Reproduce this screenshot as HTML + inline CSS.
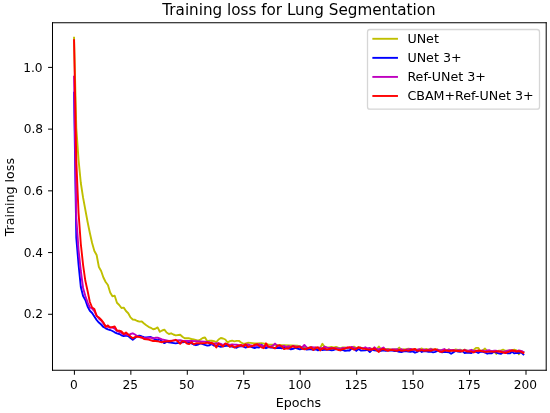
<!DOCTYPE html>
<html><head><meta charset="utf-8"><title>Training loss for Lung Segmentation</title>
<style>html,body{margin:0;padding:0;background:#fff;width:550px;height:413px;overflow:hidden}</style>
</head><body>
<svg width="550" height="413" viewBox="0 0 434.210526 326.052632" style="display:block;filter:blur(0.3px)">
<defs>
<style type="text/css">*{stroke-linejoin: round; stroke-linecap: butt}</style>
</defs>
<g id="figure_1">
<g id="patch_1">
<path d="M 0 326.052632 L 434.210526 326.052632 L 434.210526 0 L 0 0 z
" style="fill: #ffffff"/>
</g>
<g id="axes_1">
<g id="patch_2">
<path d="M 41.447368 292.342105 L 431.210526 292.342105 L 431.210526 18 L 41.447368 18 z
" style="fill: #ffffff"/>
</g>
<g id="matplotlib.axis_1">
<g id="xtick_1">
<g id="line2d_1">
<g>
<path d="M 58.737 292.342 L 58.737 295.842" style="stroke: #000000; stroke-width: 0.8"/>
</g>
</g>
<g id="text_1" transform="translate(-0.3947 0.3158)">
<text style="font-size: 9.632px; font-family: 'DejaVu Sans', 'Liberation Sans', sans-serif; text-anchor: middle" x="58.736842" y="306.940543">0</text>
</g>
</g>
<g id="xtick_2">
<g id="line2d_2">
<g>
<path d="M 103.303 292.342 L 103.303 295.842" style="stroke: #000000; stroke-width: 0.8"/>
</g>
</g>
<g id="text_2" transform="translate(-0.3947 0.3158)">
<text style="font-size: 9.632px; font-family: 'DejaVu Sans', 'Liberation Sans', sans-serif; text-anchor: middle" x="103.302632" y="306.940543">25</text>
</g>
</g>
<g id="xtick_3">
<g id="line2d_3">
<g>
<path d="M 147.868 292.342 L 147.868 295.842" style="stroke: #000000; stroke-width: 0.8"/>
</g>
</g>
<g id="text_3" transform="translate(-0.3947 0.3158)">
<text style="font-size: 9.632px; font-family: 'DejaVu Sans', 'Liberation Sans', sans-serif; text-anchor: middle" x="147.868421" y="306.940543">50</text>
</g>
</g>
<g id="xtick_4">
<g id="line2d_4">
<g>
<path d="M 192.434 292.342 L 192.434 295.842" style="stroke: #000000; stroke-width: 0.8"/>
</g>
</g>
<g id="text_4" transform="translate(-0.3947 0.3158)">
<text style="font-size: 9.632px; font-family: 'DejaVu Sans', 'Liberation Sans', sans-serif; text-anchor: middle" x="192.434211" y="306.940543">75</text>
</g>
</g>
<g id="xtick_5">
<g id="line2d_5">
<g>
<path d="M 237.000 292.342 L 237.000 295.842" style="stroke: #000000; stroke-width: 0.8"/>
</g>
</g>
<g id="text_5" transform="translate(-0.3947 0.3158)">
<text style="font-size: 9.632px; font-family: 'DejaVu Sans', 'Liberation Sans', sans-serif; text-anchor: middle" x="237" y="306.940543">100</text>
</g>
</g>
<g id="xtick_6">
<g id="line2d_6">
<g>
<path d="M 281.566 292.342 L 281.566 295.842" style="stroke: #000000; stroke-width: 0.8"/>
</g>
</g>
<g id="text_6" transform="translate(-0.3947 0.3158)">
<text style="font-size: 9.632px; font-family: 'DejaVu Sans', 'Liberation Sans', sans-serif; text-anchor: middle" x="281.565789" y="306.940543">125</text>
</g>
</g>
<g id="xtick_7">
<g id="line2d_7">
<g>
<path d="M 326.132 292.342 L 326.132 295.842" style="stroke: #000000; stroke-width: 0.8"/>
</g>
</g>
<g id="text_7" transform="translate(-0.3947 0.3158)">
<text style="font-size: 9.632px; font-family: 'DejaVu Sans', 'Liberation Sans', sans-serif; text-anchor: middle" x="326.131579" y="306.940543">150</text>
</g>
</g>
<g id="xtick_8">
<g id="line2d_8">
<g>
<path d="M 370.697 292.342 L 370.697 295.842" style="stroke: #000000; stroke-width: 0.8"/>
</g>
</g>
<g id="text_8" transform="translate(-0.3947 0.3158)">
<text style="font-size: 9.632px; font-family: 'DejaVu Sans', 'Liberation Sans', sans-serif; text-anchor: middle" x="370.697368" y="306.940543">175</text>
</g>
</g>
<g id="xtick_9">
<g id="line2d_9">
<g>
<path d="M 415.263 292.342 L 415.263 295.842" style="stroke: #000000; stroke-width: 0.8"/>
</g>
</g>
<g id="text_9" transform="translate(-0.3947 0.3158)">
<text style="font-size: 9.632px; font-family: 'DejaVu Sans', 'Liberation Sans', sans-serif; text-anchor: middle" x="415.263158" y="306.940543">200</text>
</g>
</g>
<g id="text_10" transform="translate(-0.7895 0.9474)">
<text style="font-size: 10px; font-family: 'DejaVu Sans', 'Liberation Sans', sans-serif; text-anchor: middle" x="236.328947" y="320.618668">Epochs</text>
</g>
</g>
<g id="matplotlib.axis_2">
<g id="ytick_1">
<g id="line2d_10">
<g>
<path d="M 41.447 248.116 L 37.947 248.116" style="stroke: #000000; stroke-width: 0.8"/>
</g>
</g>
<g id="text_11" transform="translate(-0.4737 -0.4737)">
<text style="font-size: 9.632px; font-family: 'DejaVu Sans', 'Liberation Sans', sans-serif; text-anchor: end" x="34.447368" y="251.915008">0.2</text>
</g>
</g>
<g id="ytick_2">
<g id="line2d_11">
<g>
<path d="M 41.447 199.389 L 37.947 199.389" style="stroke: #000000; stroke-width: 0.8"/>
</g>
</g>
<g id="text_12" transform="translate(-0.4737 -0.4737)">
<text style="font-size: 9.632px; font-family: 'DejaVu Sans', 'Liberation Sans', sans-serif; text-anchor: end" x="34.447368" y="203.188692">0.4</text>
</g>
</g>
<g id="ytick_3">
<g id="line2d_12">
<g>
<path d="M 41.447 150.663 L 37.947 150.663" style="stroke: #000000; stroke-width: 0.8"/>
</g>
</g>
<g id="text_13" transform="translate(-0.4737 -0.4737)">
<text style="font-size: 9.632px; font-family: 'DejaVu Sans', 'Liberation Sans', sans-serif; text-anchor: end" x="34.447368" y="154.462377">0.6</text>
</g>
</g>
<g id="ytick_4">
<g id="line2d_13">
<g>
<path d="M 41.447 101.937 L 37.947 101.937" style="stroke: #000000; stroke-width: 0.8"/>
</g>
</g>
<g id="text_14" transform="translate(-0.4737 -0.4737)">
<text style="font-size: 9.632px; font-family: 'DejaVu Sans', 'Liberation Sans', sans-serif; text-anchor: end" x="34.447368" y="105.736061">0.8</text>
</g>
</g>
<g id="ytick_5">
<g id="line2d_14">
<g>
<path d="M 41.447 53.211 L 37.947 53.211" style="stroke: #000000; stroke-width: 0.8"/>
</g>
</g>
<g id="text_15" transform="translate(-0.7895 -0.4737)">
<text style="font-size: 9.632px; font-family: 'DejaVu Sans', 'Liberation Sans', sans-serif; text-anchor: end" x="34.447368" y="57.009745">1.0</text>
</g>
</g>
<g id="text_16" transform="translate(-1.5789 0.4737)">
<text style="font-size: 10px; font-family: 'DejaVu Sans', 'Liberation Sans', sans-serif; text-anchor: middle" x="12.464556" y="155.171053" transform="rotate(-90 12.464556 155.171053)">Training loss</text>
</g>
</g>
<g id="line2d_15">
<path d="M 58.460526 29.842105 L 60.243158 101.052632 L 62.025789 126.315789 L 63.808421 144.473684 L 65.591053 156.078947 L 69.156316 175.263158 L 70.938947 183.947368 L 72.721579 191.842105 L 74.504211 198.157895 L 76.286842 201.315789 L 78.069474 210.789474 L 79.852105 213.947368 L 81.634737 219.078947 L 83.417368 222.631579 L 85.2 225 L 86.982632 230.921053 L 88.765263 233.921053 L 90.547895 233.447368 L 92.330526 239.052632 L 94.113158 240.789474 L 95.895789 243.157895 L 97.678421 242.842105 L 99.461053 245.526316 L 101.243684 247.263158 L 103.026316 250.578947 L 104.808947 252.236842 L 106.591579 252.473684 L 108.374211 253.421053 L 110.156842 253.894737 L 111.939474 253.815789 L 113.722105 255.394737 L 115.504737 256.815789 L 117.287368 258 L 119.07 258.789474 L 120.852632 259.894737 L 122.635263 259.5 L 124.417895 258.473684 L 126.200526 261.947368 L 127.983158 260.921053 L 129.765789 260.210526 L 131.548421 262.5 L 133.331053 263.684211 L 135.113684 263.131579 L 136.896316 264.078947 L 138.678947 264.789474 L 142.244211 264.236842 L 144.026842 265.894737 L 145.809474 267.078947 L 149.374737 267.078947 L 151.157368 267.631579 L 152.94 267.947368 L 156.505263 268.973684 L 158.287895 268.026316 L 160.070526 266.842105 L 161.853158 266.447368 L 163.635789 269.368421 L 165.418421 269.052632 L 167.201053 269.052632 L 168.983684 269.368421 L 170.766316 270.078947 L 172.548947 268.026316 L 174.331579 266.842105 L 176.114211 267.236842 L 177.896842 268.026316 L 179.679474 270.394737 L 181.462105 269.289474 L 183.244737 268.973684 L 185.027368 269.526316 L 186.81 269.131579 L 188.592632 269.131579 L 190.375263 270.394737 L 192.157895 271.421053 L 193.940526 271.184211 L 195.723158 270.631579 L 197.505789 270.710526 L 201.071053 271.08653 L 202.853684 271.11262 L 206.418947 270.94192 L 211.766842 272.002697 L 218.897368 272.394 L 229.593158 272.696316 L 234.941053 272.919145 L 236.723684 273.441741 L 238.506316 274.310868 L 240.288947 273.588911 L 242.071579 274.82951 L 243.854211 274.533385 L 245.636842 273.848466 L 247.419474 274.953762 L 249.202105 274.264355 L 250.984737 274.76706 L 252.767368 274.785602 L 254.55 271.421053 L 256.332632 274.245043 L 258.115263 274.394256 L 259.897895 274.249597 L 261.680526 273.868421 L 263.463158 274.495571 L 265.245789 273.868421 L 267.028421 274.443007 L 268.811053 274.82502 L 270.593684 274.270215 L 272.376316 274.308826 L 274.158947 274.880989 L 275.941579 274.939141 L 277.724211 274.218404 L 279.506842 273.626537 L 281.289474 274.848749 L 283.072105 274.00017 L 284.854737 274.501871 L 286.637368 274.667228 L 288.42 275.090863 L 293.767895 275.267628 L 295.550526 275.817055 L 297.333158 275.798884 L 299.115789 273.552632 L 300.898421 275.845809 L 302.681053 275.318607 L 304.463684 275.517979 L 306.246316 275.567147 L 308.028947 275.746187 L 309.811579 276.210018 L 311.594211 275.642571 L 313.376842 276.069134 L 315.159474 274.421053 L 316.942105 276.327037 L 318.724737 275.652472 L 320.507368 275.804994 L 322.29 275.291151 L 324.072632 275.422275 L 325.855263 276.221584 L 327.637895 275.537285 L 329.420526 276.163666 L 331.203158 275.801297 L 332.985789 275.052632 L 334.768421 276.402769 L 336.551053 275.459682 L 338.333684 276.169629 L 340.116316 275.299199 L 341.898947 276.147326 L 343.681579 275.73203 L 345.464211 275.950396 L 347.246842 276.579357 L 349.029474 276.221626 L 350.812105 276.580013 L 352.594737 276.672091 L 354.377368 275.862101 L 356.16 276.566188 L 357.942632 276.728167 L 359.725263 275.842105 L 361.507895 276.287948 L 363.290526 276.087784 L 365.073158 276.717106 L 366.855789 276.00869 L 368.638421 276.713116 L 370.421053 277.000329 L 372.203684 276.85719 L 373.986316 276.25491 L 375.768947 274.657895 L 377.551579 274.657895 L 379.334211 277.118382 L 381.116842 276.673518 L 382.899474 275.210526 L 384.682105 277.160932 L 386.464737 277.287693 L 388.247368 277.133372 L 390.03 277.427311 L 391.812632 279.473684 L 393.595263 276.835767 L 395.377895 276.794307 L 397.160526 276.078947 L 398.943158 276.903902 L 400.725789 276.788942 L 402.508421 276.858382 L 406.073684 276.072378 L 407.856316 276.690582 L 409.638947 279.631579 L 411.421579 277.139986 L 413.204211 277.928907 L 413.204211 277.928907 " clip-path="url(#pa044f93987)" style="fill: none; stroke: #bfbf00; stroke-width: 1.5; stroke-linecap: square"/>
</g>
<g id="line2d_16">
<path d="M 58.460526 73.105263 L 60.243158 187.894737 L 62.025789 208.894737 L 63.808421 226.578947 L 65.591053 233.684211 L 67.373684 236.842105 L 69.156316 241.973684 L 70.938947 245.368421 L 72.721579 247.105263 L 76.286842 252.631579 L 78.069474 254.684211 L 79.852105 256.184211 L 81.634737 258.157895 L 83.417368 259.184211 L 85.2 259.973684 L 86.982632 260.526316 L 88.765263 261.315789 L 90.547895 262.342105 L 92.330526 263.131579 L 94.113158 263.684211 L 95.895789 264.710526 L 97.678421 265.263158 L 99.461053 264.868421 L 101.243684 265.263158 L 103.026316 266.842105 L 104.808947 268.263158 L 106.591579 266.842105 L 108.374211 265.263158 L 110.156842 264.947368 L 111.939474 265.657895 L 113.722105 266.131579 L 115.504737 266.447368 L 119.07 266.052632 L 120.852632 266.842105 L 122.635263 268.263158 L 124.417895 268.578947 L 126.200526 267.947368 L 127.983158 269.605263 L 129.765789 270.868421 L 131.548421 269.684211 L 133.331053 270.315789 L 138.678947 271.105263 L 144.026842 270.236842 L 147.592105 269.763158 L 151.157368 271.026316 L 152.94 271.973684 L 154.722632 272.526316 L 156.505263 271.973684 L 158.287895 271.105263 L 160.070526 271.578947 L 161.853158 272.289474 L 163.635789 272.842105 L 165.418421 272.526316 L 167.201053 271.530261 L 168.983684 272.855511 L 170.766316 272.744857 L 172.548947 273.217501 L 174.331579 273.822389 L 176.114211 273.410407 L 179.679474 272.888201 L 181.462105 273.36746 L 183.244737 273.642672 L 186.81 274.505904 L 188.592632 273.556373 L 190.375263 273.262005 L 192.157895 273.511358 L 193.940526 274.4362 L 195.723158 273.212864 L 197.505789 273.488316 L 199.288421 274.18837 L 201.071053 274.736842 L 202.853684 274.117408 L 204.636316 274.297197 L 206.418947 272.131579 L 208.201579 274.001375 L 209.984211 274.942985 L 211.766842 273.999741 L 213.549474 274.446742 L 215.332105 274.455534 L 217.114737 274.687916 L 220.68 274.578947 L 222.462632 274.959104 L 224.245263 274.614292 L 227.810526 274.919827 L 229.593158 275.732803 L 231.375789 275.341474 L 233.158421 274.657435 L 236.723684 275.763158 L 238.506316 275.350354 L 240.288947 275.181394 L 242.071579 275.989127 L 243.854211 275.716344 L 245.636842 275.709846 L 247.419474 276.244797 L 249.202105 275.704724 L 250.984737 276.574052 L 252.767368 275.675901 L 254.55 276.448383 L 256.332632 275.978936 L 259.897895 276.257292 L 261.680526 276.473684 L 263.463158 276.282903 L 265.245789 275.562403 L 267.028421 275.671993 L 268.811053 276.567465 L 270.593684 276.151222 L 272.376316 277.026316 L 274.158947 276.730439 L 275.941579 276.710526 L 277.724211 274.967346 L 279.506842 275.292173 L 281.289474 277.026316 L 283.072105 275.502822 L 284.854737 276.779278 L 288.42 276.629054 L 290.202632 276.170587 L 291.985263 277.894737 L 293.767895 276.218295 L 295.550526 276.566422 L 297.333158 276.753603 L 299.115789 277.227729 L 300.898421 277.003935 L 302.681053 276.610857 L 304.463684 276.914607 L 306.246316 276.726538 L 308.028947 276.846526 L 309.811579 276.735002 L 311.594211 277.219018 L 313.376842 277.226356 L 315.159474 277.776158 L 316.942105 277.911594 L 318.724737 277.445127 L 320.507368 277.189717 L 322.29 277.589661 L 324.072632 277.773163 L 325.855263 277.437842 L 327.637895 278.447368 L 329.420526 277.84371 L 331.203158 276.470208 L 332.985789 277.87888 L 334.768421 277.147205 L 336.551053 277.337673 L 338.333684 277.697893 L 340.116316 277.606172 L 341.898947 278.210526 L 343.681579 277.773212 L 345.464211 276.864984 L 347.246842 277.274322 L 349.029474 278.151836 L 350.812105 277.712917 L 352.594737 277.984733 L 354.377368 278.07454 L 356.16 279.236842 L 359.725263 276.992482 L 361.507895 277.531984 L 363.290526 277.689914 L 365.073158 277.170338 L 366.855789 278.684211 L 368.638421 278.290465 L 370.421053 278.616355 L 372.203684 278.716391 L 373.986316 277.521888 L 375.768947 277.694665 L 377.551579 278.684211 L 379.334211 277.618944 L 381.116842 277.662079 L 382.899474 278.283618 L 384.682105 279.236842 L 386.464737 278.814048 L 388.247368 278.898232 L 390.03 277.598283 L 391.812632 278.442522 L 393.595263 279.017743 L 395.377895 279.355484 L 397.160526 278.18116 L 398.943158 277.913618 L 400.725789 278.963212 L 402.508421 278.969386 L 404.291053 277.699112 L 406.073684 279 L 407.856316 278.489013 L 409.638947 278.879868 L 411.421579 278.092766 L 413.204211 279.868421 L 413.204211 279.868421 " clip-path="url(#pa044f93987)" style="fill: none; stroke: #0000ff; stroke-width: 1.5; stroke-linecap: square"/>
</g>
<g id="line2d_17">
<path d="M 58.460526 60.473684 L 60.243158 172.105263 L 62.025789 197.368421 L 63.808421 213.947368 L 65.591053 227.368421 L 67.373684 233.684211 L 69.156316 238.657895 L 70.938947 242.605263 L 72.721579 243.552632 L 74.504211 245.526316 L 76.286842 249.078947 L 78.069474 251.447368 L 79.852105 253.026316 L 81.634737 255.394737 L 83.417368 257.368421 L 85.2 258.157895 L 88.765263 258.631579 L 90.547895 259.342105 L 92.330526 261.315789 L 95.895789 262.894737 L 97.678421 264.078947 L 99.461053 264.078947 L 101.243684 264.473684 L 103.026316 263.684211 L 104.808947 263.131579 L 106.591579 264.078947 L 108.374211 265.421053 L 110.156842 266.052632 L 113.722105 266.842105 L 115.504737 267.078947 L 119.07 266.526316 L 120.852632 267.236842 L 122.635263 266.684211 L 124.417895 266.526316 L 127.983158 268.026316 L 133.331053 269.131579 L 138.678947 268.736842 L 142.244211 268.578947 L 144.026842 268.973684 L 149.374737 269.210526 L 151.157368 269.131579 L 161.853158 269.684211 L 165.418421 270.157895 L 167.201053 271.324935 L 172.548947 271.014803 L 174.331579 271.528554 L 176.114211 272.475356 L 177.896842 271.274592 L 179.679474 271.679552 L 181.462105 272.295125 L 183.244737 271.828485 L 185.027368 272.106118 L 186.81 272.160872 L 190.375263 272.932669 L 193.940526 272.064721 L 195.723158 271.894737 L 197.505789 272.414873 L 201.071053 273.204885 L 202.853684 272.369092 L 204.636316 271.705093 L 206.418947 272.79735 L 208.201579 273.200534 L 209.984211 272.981544 L 211.766842 273.658664 L 213.549474 273.609184 L 215.332105 272.935453 L 217.114737 271.263158 L 218.897368 272.849742 L 220.68 273.297955 L 222.462632 273.429119 L 224.245263 273 L 226.027895 274.105262 L 227.810526 273.275292 L 229.593158 274.154062 L 231.375789 273.11267 L 233.158421 273.512114 L 234.941053 273.674742 L 236.723684 273.567488 L 238.506316 274.188198 L 240.288947 272.289474 L 242.071579 274.246341 L 243.854211 274.957374 L 245.636842 274.08206 L 250.984737 274.515543 L 252.767368 274.546286 L 254.55 275.333407 L 256.332632 273.552632 L 258.115263 274.443273 L 259.897895 274.617095 L 261.680526 274.636006 L 263.463158 275.09234 L 265.245789 274.803919 L 267.028421 275.054914 L 268.811053 275.507499 L 270.593684 274.701217 L 272.376316 274.971591 L 274.158947 274.184211 L 275.941579 274.931039 L 277.724211 273.856089 L 279.506842 274.640078 L 281.289474 275.018604 L 284.854737 274.513635 L 286.637368 274.999684 L 288.42 274.184211 L 290.202632 275.148749 L 291.985263 274.753265 L 293.767895 276.135668 L 295.550526 274.184211 L 297.333158 275.453662 L 299.115789 275.700985 L 300.898421 275.181636 L 302.681053 274.342105 L 304.463684 276.301121 L 306.246316 275.913026 L 308.028947 276.228287 L 309.811579 275.605933 L 311.594211 275.847263 L 313.376842 275.724768 L 315.159474 276.200273 L 316.942105 275.664963 L 318.724737 276.646334 L 320.507368 275.94107 L 322.29 275.817507 L 324.072632 275.399184 L 325.855263 276.132059 L 327.637895 276.298783 L 329.420526 276.05086 L 331.203158 275.606465 L 332.985789 276.383088 L 334.768421 275.921053 L 336.551053 276.526184 L 338.333684 276.068109 L 340.116316 275.733945 L 343.681579 276.422158 L 345.464211 275.977015 L 347.246842 276.67504 L 349.029474 276.295268 L 350.812105 275.526316 L 352.594737 276.98766 L 354.377368 275.94504 L 356.16 276.534366 L 357.942632 276.189196 L 359.725263 276.828428 L 361.507895 276.448587 L 363.290526 276.431403 L 365.073158 277.108433 L 366.855789 276.128711 L 368.638421 276.929544 L 370.421053 276.617211 L 372.203684 276.168616 L 373.986316 277.166099 L 375.768947 276.935131 L 377.551579 277.388845 L 381.116842 276.628735 L 382.899474 277.515165 L 384.682105 276.574737 L 386.464737 276.540129 L 388.247368 277.365267 L 390.03 276.908323 L 391.812632 276.952828 L 393.595263 277.761334 L 395.377895 277.12395 L 397.160526 277.76579 L 402.508421 276.503771 L 404.291053 276.591567 L 406.073684 277.369875 L 407.856316 277.421053 L 409.638947 276.641997 L 411.421579 277.098242 L 413.204211 277.894737 L 413.204211 277.894737 " clip-path="url(#pa044f93987)" style="fill: none; stroke: #bf00bf; stroke-width: 1.5; stroke-linecap: square"/>
</g>
<g id="line2d_18">
<path d="M 58.460526 31.736842 L 60.243158 127.105263 L 62.025789 168.157895 L 63.808421 192.631579 L 65.591053 209.052632 L 67.373684 221.684211 L 69.156316 229.736842 L 70.938947 238.421053 L 72.721579 242.763158 L 74.504211 243.947368 L 76.286842 249.473684 L 78.069474 250.657895 L 79.852105 252.394737 L 81.634737 254.605263 L 83.417368 258.157895 L 85.2 256.894737 L 86.982632 258.631579 L 90.547895 257.763158 L 92.330526 260.921053 L 94.113158 261.078947 L 95.895789 261.710526 L 97.678421 263.684211 L 99.461053 262.5 L 103.026316 265.657895 L 104.808947 267.078947 L 106.591579 266.052632 L 108.374211 265.736842 L 111.939474 266.447368 L 113.722105 267.631579 L 117.287368 268.105263 L 120.852632 269.210526 L 122.635263 269.210526 L 124.417895 269.368421 L 126.200526 269.842105 L 127.983158 270.157895 L 129.765789 269.684211 L 133.331053 269.368421 L 135.113684 269.368421 L 138.678947 268.263158 L 140.461579 269.605263 L 142.244211 271.421053 L 144.026842 269.368421 L 145.809474 269.842105 L 147.592105 271.184211 L 149.374737 271.578947 L 151.157368 270.236842 L 152.94 271.736842 L 154.722632 271.026316 L 160.070526 270.947368 L 161.853158 270.868421 L 163.635789 270.552632 L 165.418421 271.026316 L 167.201053 270.631579 L 168.983684 271.815789 L 170.766316 274.342105 L 172.548947 271.184211 L 176.114211 273.552632 L 177.896842 271.184211 L 179.679474 272.052632 L 181.462105 273.789474 L 183.244737 272.684211 L 185.027368 274.342105 L 186.81 273.552632 L 190.375263 272.368421 L 192.157895 273.552632 L 193.940526 271.815789 L 195.723158 274.105263 L 199.288421 273.157895 L 201.071053 272.052632 L 202.853684 271.657895 L 204.636316 273.157895 L 206.418947 274.184211 L 208.201579 274.894737 L 209.984211 271.026316 L 211.766842 273.552632 L 213.549474 274.026316 L 215.332105 274.263158 L 217.114737 275.131579 L 218.897368 273 L 220.68 272.447368 L 222.462632 273.552632 L 224.245263 275.605263 L 226.027895 274.973684 L 227.810526 275.131579 L 229.593158 274.026316 L 231.375789 273.236842 L 233.158421 274.421053 L 236.723684 273.631579 L 238.506316 275.210526 L 240.288947 275.763158 L 242.071579 275.368421 L 243.854211 274.578947 L 245.636842 274.342105 L 247.419474 276.315789 L 249.202105 274.894737 L 250.984737 274.184211 L 252.767368 276.631579 L 254.55 274.973684 L 256.332632 275.210526 L 258.115263 276.078947 L 259.897895 275.526316 L 261.680526 275.131579 L 263.463158 274.894737 L 265.245789 275.526316 L 267.028421 276.315789 L 268.811053 276.473684 L 270.593684 275.605263 L 272.376316 275.289474 L 274.158947 274.578947 L 275.941579 274.026316 L 279.506842 276.078947 L 281.289474 275.526316 L 283.072105 274.184211 L 284.854737 274.736842 L 286.637368 275.447368 L 288.42 275.447368 L 290.202632 275.921053 L 291.985263 276.078947 L 293.767895 275.763158 L 295.550526 275.131579 L 299.115789 277.815789 L 300.898421 275.921053 L 302.681053 275.526316 L 306.246316 277.026316 L 308.028947 276.236842 L 309.811579 276.315789 L 313.376842 277.026316 L 315.159474 276.236842 L 316.942105 276.947368 L 320.507368 276.473684 L 322.29 277.026316 L 325.855263 275.921053 L 327.637895 275.526316 L 329.420526 277.026316 L 332.985789 276.473684 L 334.768421 276.947368 L 338.333684 276.552632 L 340.116316 277.026316 L 341.898947 276.157895 L 343.681579 275.684211 L 347.246842 277.736842 L 349.029474 277.815789 L 350.812105 276.710526 L 352.594737 276.710526 L 354.377368 277.263158 L 356.16 276.868421 L 357.942632 276.710526 L 361.507895 277.105263 L 363.290526 277.263158 L 365.073158 277.263158 L 366.855789 276.473684 L 368.638421 277.5 L 370.421053 277.578947 L 372.203684 277.5 L 373.986316 278.289474 L 375.768947 277.105263 L 377.551579 276.710526 L 382.899474 277.815789 L 384.682105 277.815789 L 386.464737 277.578947 L 388.247368 277.578947 L 390.03 277.815789 L 391.812632 277.421053 L 393.595263 277.342105 L 398.943158 278.684211 L 402.508421 277.342105 L 404.291053 276.710526 L 406.073684 276.868421 L 407.856316 277.5 L 409.638947 277.184211 L 411.421579 277.736842 L 413.204211 278.684211 L 413.204211 278.684211 " clip-path="url(#pa044f93987)" style="fill: none; stroke: #ff0000; stroke-width: 1.5; stroke-linecap: square"/>
</g>
<g id="patch_3">
<path d="M 41.447368 292.342105 L 41.447368 18 " style="fill: none; stroke: #000000; stroke-width: 0.8; stroke-linejoin: miter; stroke-linecap: square"/>
</g>
<g id="patch_4">
<path d="M 431.210526 292.342105 L 431.210526 18 " style="fill: none; stroke: #000000; stroke-width: 0.8; stroke-linejoin: miter; stroke-linecap: square"/>
</g>
<g id="patch_5">
<path d="M 41.447368 292.342105 L 431.210526 292.342105 " style="fill: none; stroke: #000000; stroke-width: 0.8; stroke-linejoin: miter; stroke-linecap: square"/>
</g>
<g id="patch_6">
<path d="M 41.447368 18 L 431.210526 18 " style="fill: none; stroke: #000000; stroke-width: 0.8; stroke-linejoin: miter; stroke-linecap: square"/>
</g>
<g id="text_17" transform="translate(-0.3158 0.0000)">
<text style="font-size: 12px; font-family: 'DejaVu Sans', 'Liberation Sans', sans-serif; text-anchor: middle" x="236.328947" y="12">Training loss for Lung Segmentation</text>
</g>
<g id="legend_1">
<g id="patch_7">
<path d="M 292.132 86.211 L 423.921 86.211 Q 425.921 86.211 425.921 84.211 L 425.921 25.289 Q 425.921 23.289 423.921 23.289 L 292.132 23.289 Q 290.132 23.289 290.132 25.289 L 290.132 84.211 Q 290.132 86.211 292.132 86.211 z" style="fill: #ffffff; opacity: 0.8; stroke: #cccccc; stroke-linejoin: miter"/>
</g>
<g id="line2d_19" transform="translate(0.0000 -0.4737)">
<path d="M 294.711 31.098 L 313.421 31.098" style="fill: none; stroke: #bfbf00; stroke-width: 1.5; stroke-linecap: square"/>
</g>
<g id="text_18" transform="translate(-0.8684 -0.4737)">
<text style="font-size: 10px; font-family: 'DejaVu Sans', 'Liberation Sans', sans-serif; text-anchor: start" x="322.494901" y="34.598438">UNet</text>
</g>
<g id="line2d_20" transform="translate(0.0000 -0.1026)">
<path d="M 294.711 45.777 L 313.421 45.777" style="fill: none; stroke: #0000ff; stroke-width: 1.5; stroke-linecap: square"/>
</g>
<g id="text_19" transform="translate(-0.8684 -0.1342)">
<text style="font-size: 10px; font-family: 'DejaVu Sans', 'Liberation Sans', sans-serif; text-anchor: start" x="322.494901" y="49.276563">UNet 3+</text>
</g>
<g id="line2d_21" transform="translate(0.0000 0.2684)">
<path d="M 294.711 60.455 L 313.421 60.455" style="fill: none; stroke: #bf00bf; stroke-width: 1.5; stroke-linecap: square"/>
</g>
<g id="text_20" transform="translate(-0.8684 0.2053)">
<text style="font-size: 10px; font-family: 'DejaVu Sans', 'Liberation Sans', sans-serif; text-anchor: start" x="322.494901" y="63.954688">Ref-UNet 3+</text>
</g>
<g id="line2d_22" transform="translate(0.0000 0.6395)">
<path d="M 294.711 75.133 L 313.421 75.133" style="fill: none; stroke: #ff0000; stroke-width: 1.5; stroke-linecap: square"/>
</g>
<g id="text_21" transform="translate(-0.8684 0.5447)">
<text style="font-size: 10px; font-family: 'DejaVu Sans', 'Liberation Sans', sans-serif; text-anchor: start" x="322.494901" y="78.632813">CBAM+Ref-UNet 3+</text>
</g>
</g>
</g>
</g>
<defs>
<clipPath id="pa044f93987">
<rect x="41.447368" y="18" width="389.763158" height="274.342105"/>
</clipPath>
</defs>
</svg>

</body></html>
